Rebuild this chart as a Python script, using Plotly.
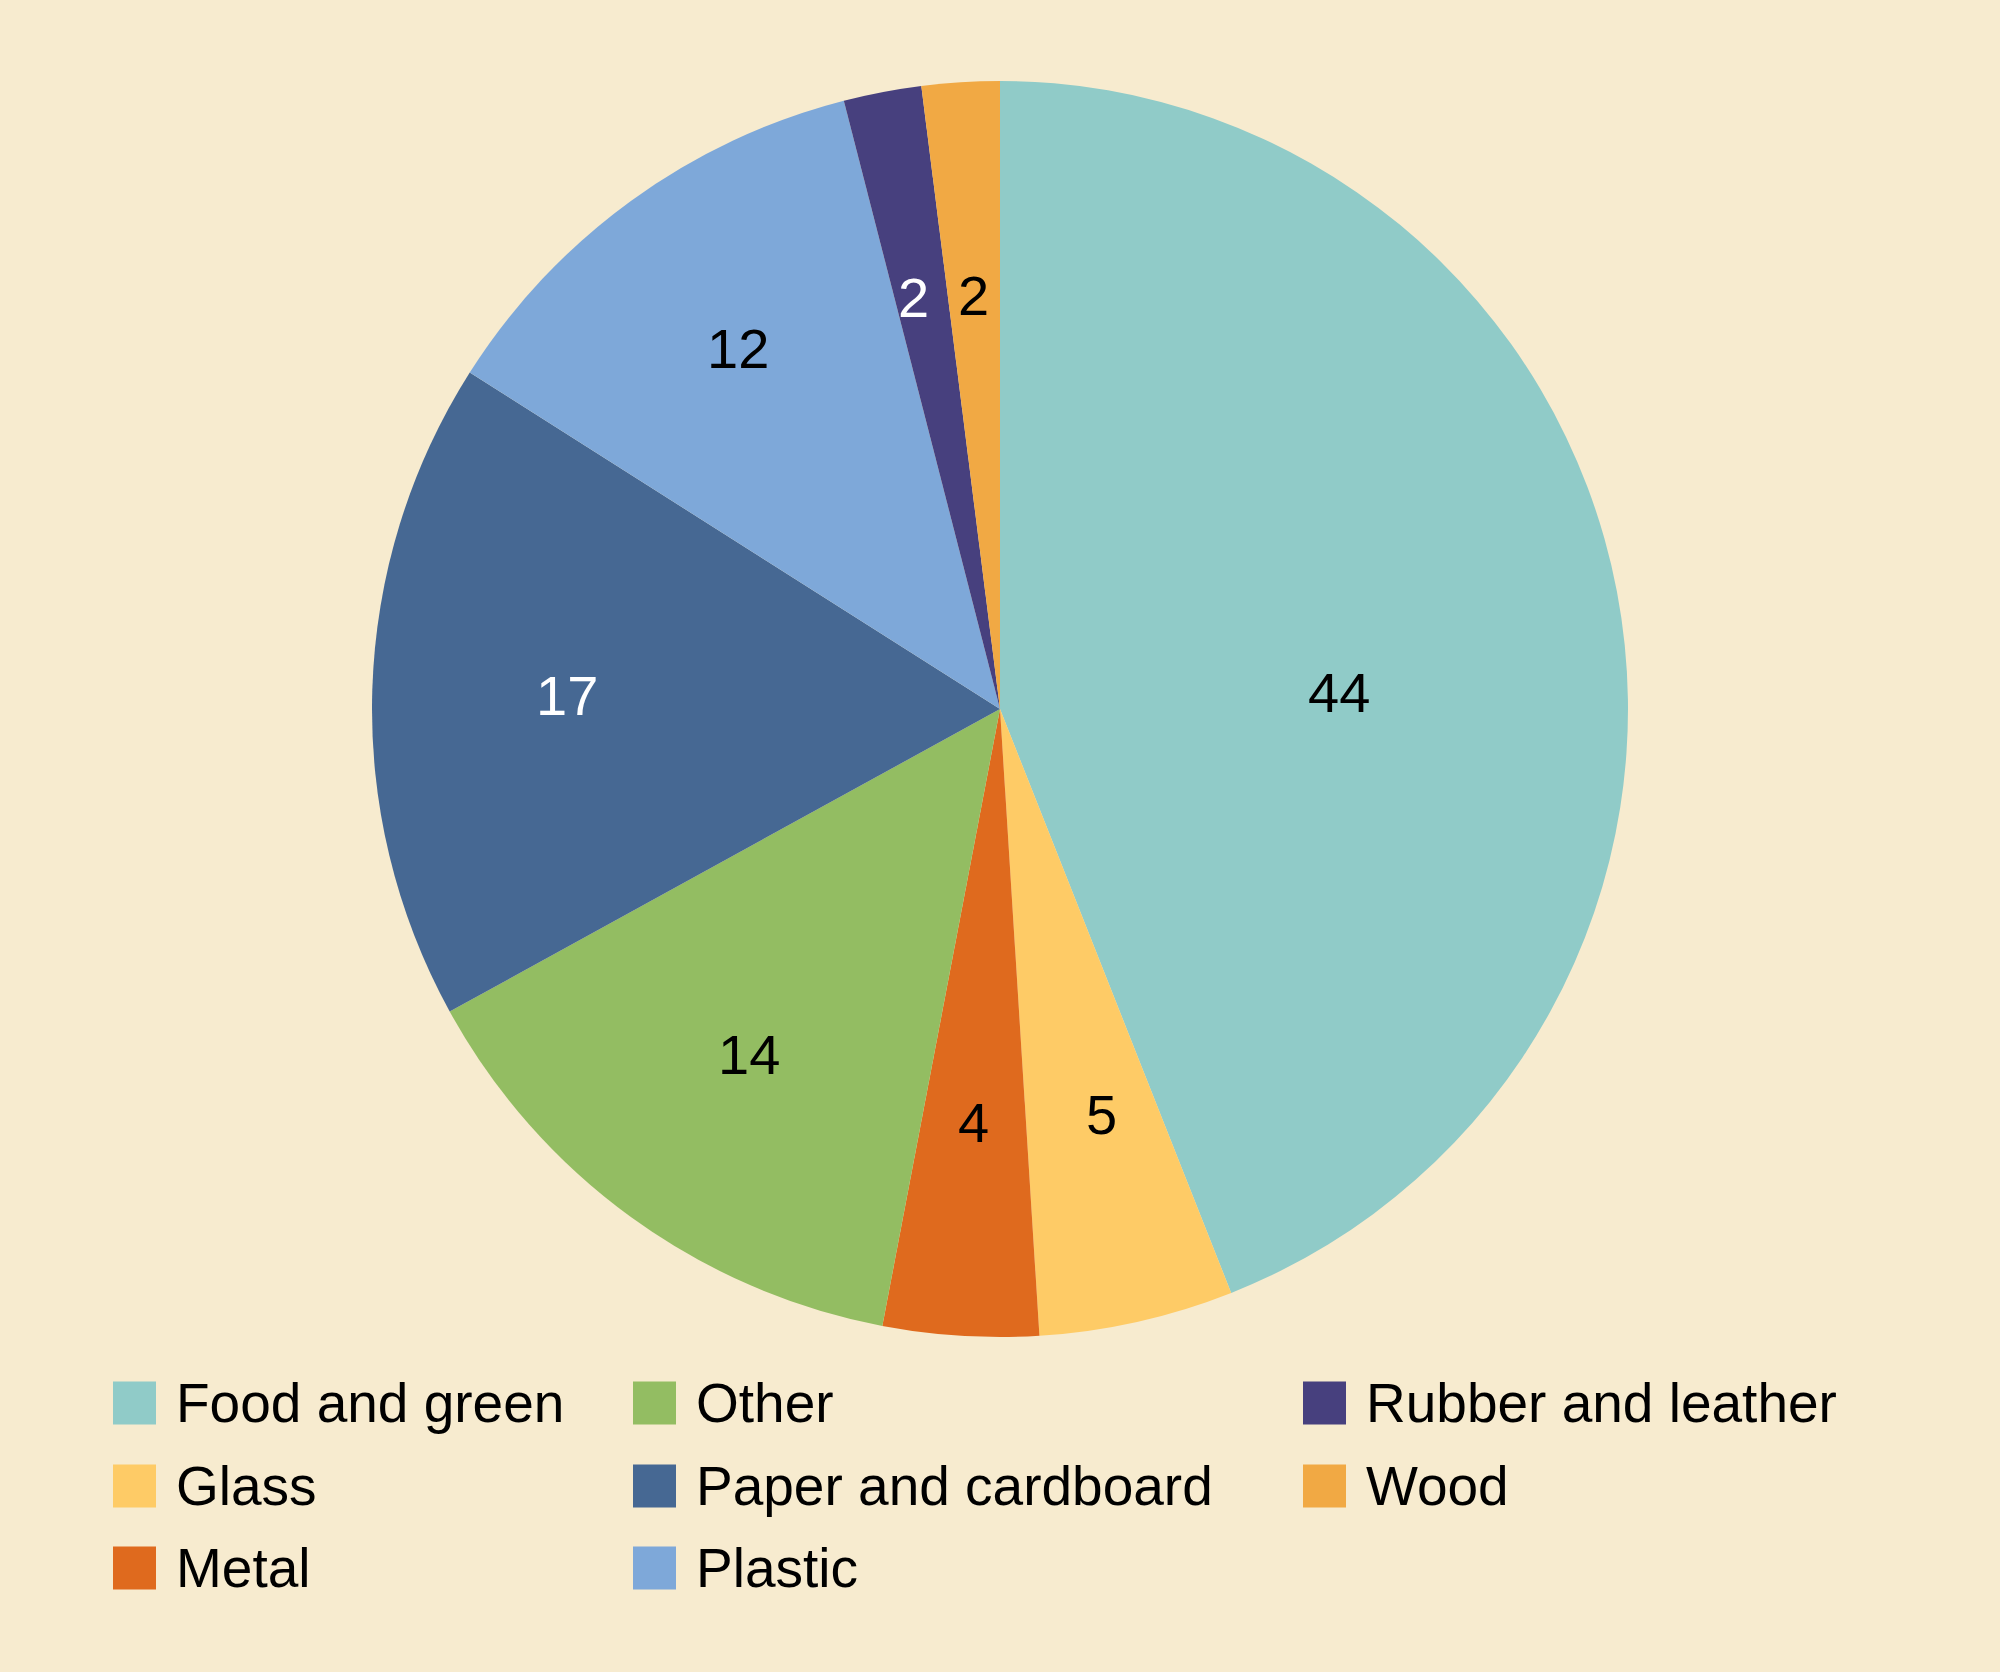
import math
import plotly.graph_objects as go

# waste composition, percent
categories = ["Food and green", "Glass", "Metal", "Other", "Paper and cardboard",
              "Plastic", "Rubber and leather", "Wood"]
values = [44, 5, 4, 14, 17, 12, 2, 2]
colors = ["#90CBC8", "#FECB66", "#DF6A1E", "#93BD62", "#466893",
          "#7EA8D9", "#47407E", "#F1A944"]
text_colors = ["black", "black", "black", "black", "white", "black", "white", "black"]

# legend is laid out column-wise in three columns
legend_columns = [["Food and green", "Glass", "Metal"],
                  ["Other", "Paper and cardboard", "Plastic"],
                  ["Rubber and leather", "Wood"]]

W, H = 2000, 1672
bg = "#F7EBCF"
font = "Liberation Sans, Arial, sans-serif"

# pie geometry in pixels
cx, cy, R = 1000, 709, 628

fig = go.Figure()
fig.add_trace(go.Pie(
    labels=categories,
    values=values,
    sort=False,
    direction="clockwise",
    rotation=0,
    marker=dict(colors=colors, line=dict(width=0)),
    textinfo="none",
    showlegend=False,
    hoverinfo="label+value",
    domain=dict(x=[(cx - R) / W, (cx + R) / W], y=[1 - (cy + R) / H, 1 - (cy - R) / H]),
))

annotations = []

# value labels, placed along each slice's bisector like the original
label_r = [0.54, 0.665, 0.66, 0.68, 0.69, 0.71, 0.67, 0.66]
label_turn = [8, -1.5, 0, 0, 0, 0, -1, 0]
total = sum(values)
cum = 0
for i, v in enumerate(values):
    ang = math.radians(360 * (cum + v / 2) / total + label_turn[i])
    cum += v
    px = cx + label_r[i] * R * math.sin(ang)
    py = cy - label_r[i] * R * math.cos(ang)
    annotations.append(dict(text=str(v), xref="paper", yref="paper",
                            x=px / W, y=1 - py / H, xanchor="center", yanchor="middle",
                            showarrow=False,
                            font=dict(size=56, color=text_colors[i], family=font)))

# hand-built legend with big square swatches
col_x = [113, 633, 1303]
row_y = [1403, 1486, 1568]
sq = 43
shapes = []
for ci, col in enumerate(legend_columns):
    for ri, name in enumerate(col):
        c = colors[categories.index(name)]
        x0 = col_x[ci]
        yc = row_y[ri]
        shapes.append(dict(type="rect", xref="paper", yref="paper",
                           x0=x0 / W, x1=(x0 + sq) / W,
                           y0=1 - (yc + sq / 2) / H, y1=1 - (yc - sq / 2) / H,
                           fillcolor=c, line=dict(width=0)))
        annotations.append(dict(text=name, xref="paper", yref="paper",
                                x=(x0 + 61) / W, y=1 - yc / H,
                                xanchor="left", yanchor="middle", showarrow=False,
                                font=dict(size=55, color="black", family=font)))

fig.update_layout(
    width=W, height=H,
    margin=dict(l=0, r=0, t=0, b=0),
    paper_bgcolor=bg,
    plot_bgcolor=bg,
    shapes=shapes,
    annotations=annotations,
    font=dict(family=font),
)

fig.write_html("out.html", config={"displayModeBar": False},
               post_script="document.body.style.margin='0';")
